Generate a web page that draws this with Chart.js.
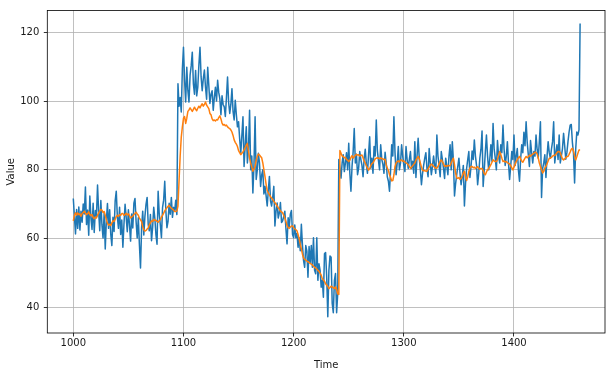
<!DOCTYPE html>
<html>
<head>
<meta charset="utf-8">
<script src="https://cdn.jsdelivr.net/npm/chart.js@4.4.1/dist/chart.umd.min.js"></script>
<style>
html, body { margin: 0; padding: 0; background: #fff; }
</style>
</head>
<body>
<canvas id="seriesChart" width="612" height="371"></canvas>
<script>
// time axis: one step per value, starting here
var firstTime = 1000;
var timeTicks = [1000, 1100, 1200, 1300, 1400];
var valueTicks = [40, 60, 80, 100, 120];

// observed series (blue)
var seriesValues = [
	/*1000*/ 71.7, 66.5, 61.4, 68.5, 63.0, 69.2, 62.5, 68.0, 64.8, 70.1,
	/*1010*/ 67.2, 75.0, 64.1, 68.3, 61.0, 72.4, 66.0, 62.7, 70.3, 61.8,
	/*1020*/ 68.2, 66.4, 75.6, 68.0, 62.3, 71.1, 64.0, 60.2, 67.4, 57.0,
	/*1030*/ 65.1, 70.2, 63.0, 68.4, 61.3, 58.0, 66.2, 62.1, 71.0, 73.8,
	/*1040*/ 66.3, 63.0, 69.1, 61.2, 65.4, 57.5, 64.3, 70.0, 66.2, 62.0,
	/*1050*/ 68.4, 64.0, 59.3, 67.2, 63.1, 70.3, 71.7, 65.0, 60.2, 66.1,
	/*1060*/ 58.3, 51.5, 63.2, 68.0, 61.1, 66.4, 70.0, 72.0, 64.1, 62.3,
	/*1070*/ 67.0, 59.4, 63.3, 69.1, 66.0, 61.2, 58.4, 73.8, 67.2, 64.0,
	/*1080*/ 60.3, 69.0, 71.2, 76.7, 68.1, 63.2, 65.0, 70.3, 67.1, 72.0,
	/*1090*/ 66.2, 69.1, 68.0, 71.2, 67.0, 105.0, 98.5, 101.0, 96.8, 109.3,
	/*1100*/ 115.6, 106.0, 99.7, 109.8, 103.0, 99.7, 107.5, 110.2, 114.2, 105.0,
	/*1110*/ 102.0, 108.9, 101.5, 104.0, 110.5, 115.6, 107.0, 103.0, 106.5, 109.0,
	/*1120*/ 104.0, 100.5, 109.8, 104.5, 99.3, 102.0, 103.0, 97.3, 101.0, 104.0,
	/*1130*/ 100.0, 106.0, 102.5, 100.7, 96.0, 101.5, 99.0, 98.3, 95.5, 101.0,
	/*1140*/ 107.0, 99.5, 96.4, 99.0, 103.6, 97.0, 94.5, 100.2, 96.0, 92.5,
	/*1150*/ 94.0, 89.0, 84.8, 90.0, 95.4, 81.0, 87.0, 92.5, 82.0, 86.0,
	/*1160*/ 97.3, 80.0, 84.0, 73.3, 81.5, 95.4, 77.2, 80.0, 84.8, 82.0,
	/*1170*/ 75.2, 78.5, 80.0, 73.0, 75.2, 72.5, 69.5, 74.0, 78.1, 71.0,
	/*1180*/ 69.5, 72.0, 75.2, 63.7, 68.0, 70.4, 66.0, 67.5, 70.5, 64.7,
	/*1190*/ 65.2, 66.5, 68.0, 62.8, 58.5, 66.1, 63.5, 67.1, 68.2, 61.2,
	/*1200*/ 60.3, 64.0, 60.3, 61.5, 57.5, 60.3, 56.5, 64.2, 58.0, 53.6,
	/*1210*/ 51.7, 58.0, 56.4, 48.8, 57.7, 53.0, 58.0, 51.7, 60.3, 50.8,
	/*1220*/ 49.8, 60.3, 47.9, 52.7, 50.8, 45.9, 48.0, 43.0, 55.6, 56.0,
	/*1230*/ 48.8, 37.3, 50.8, 55.0, 54.6, 41.2, 38.5, 47.9, 49.9, 38.5,
	/*1240*/ 44.0, 83.0, 80.5, 77.6, 82.0, 84.4, 79.5, 82.0, 85.0, 80.0,
	/*1250*/ 87.7, 79.0, 73.8, 81.0, 85.3, 92.0, 82.0, 84.5, 78.6, 80.5,
	/*1260*/ 85.3, 83.0, 81.3, 78.0, 83.4, 86.0, 81.6, 79.0, 84.5, 89.6,
	/*1270*/ 80.5, 83.4, 79.0, 86.8, 84.0, 94.5, 85.5, 82.7, 80.0, 87.3,
	/*1280*/ 83.0, 81.6, 79.0, 85.1, 82.0, 78.0, 76.7, 73.8, 80.0, 87.3,
	/*1290*/ 84.0, 95.4, 85.0, 78.6, 82.0, 86.8, 80.0, 82.0, 87.3, 84.0,
	/*1300*/ 81.3, 79.5, 86.8, 83.0, 80.4, 83.0, 85.3, 80.4, 82.5, 79.0,
	/*1310*/ 88.2, 77.8, 84.0, 89.2, 83.4, 80.0, 75.7, 79.0, 81.3, 83.4,
	/*1320*/ 85.0, 80.4, 78.0, 86.2, 82.0, 78.6, 81.0, 84.0, 81.3, 79.0,
	/*1330*/ 90.1, 84.0, 81.3, 78.0, 85.3, 83.0, 80.4, 77.5, 83.4, 81.0,
	/*1340*/ 78.6, 84.0, 87.3, 80.0, 88.2, 82.7, 72.4, 76.0, 78.6, 81.0,
	/*1350*/ 83.4, 79.0, 75.7, 78.0, 81.3, 69.5, 76.0, 80.4, 83.0, 85.3,
	/*1360*/ 77.8, 81.0, 85.5, 83.0, 88.7, 84.0, 81.3, 75.7, 79.0, 83.4,
	/*1370*/ 86.0, 91.3, 75.2, 80.0, 85.3, 90.1, 84.0, 80.0, 83.0, 87.3,
	/*1380*/ 82.5, 93.5, 86.0, 83.4, 80.0, 88.5, 84.0, 82.0, 87.3, 85.0,
	/*1390*/ 93.0, 86.0, 81.3, 84.0, 88.2, 82.0, 77.2, 81.0, 85.3, 83.0,
	/*1400*/ 90.1, 81.3, 84.0, 86.2, 80.0, 76.7, 83.0, 87.3, 85.0, 90.9,
	/*1410*/ 87.0, 94.0, 88.0, 84.4, 81.0, 88.5, 85.0, 82.0, 85.3, 84.0,
	/*1420*/ 90.1, 86.0, 83.4, 88.2, 94.0, 72.0, 80.4, 82.0, 84.4, 77.8,
	/*1430*/ 84.0, 88.2, 85.0, 83.4, 86.0, 88.2, 94.0, 82.0, 85.0, 87.3,
	/*1440*/ 83.0, 90.1, 82.0, 84.0, 86.2, 90.6, 87.0, 83.1, 85.0, 88.2,
	/*1450*/ 91.0, 93.0, 93.2, 88.0, 84.8, 76.2, 86.0, 91.0, 90.1, 91.6,
	/*1460*/ 122.5
];

// forecast (orange)
var forecastValues = [
	/*1000*/ 65.2, 66.8, 67.5, 66.8, 67.5, 67.0, 67.2, 66.5, 67.3, 67.6,
	/*1010*/ 68.0, 67.4, 67.0, 67.3, 67.8, 67.0, 66.7, 67.0, 66.2, 65.8,
	/*1020*/ 66.3, 66.0, 66.8, 67.5, 68.0, 68.5, 68.3, 67.6, 67.9, 66.8,
	/*1030*/ 65.5, 64.5, 63.9, 64.2, 63.8, 64.6, 65.2, 65.0, 65.7, 66.4,
	/*1040*/ 66.8, 66.5, 67.0, 66.8, 67.3, 67.3, 66.8, 67.0, 67.4, 66.9,
	/*1050*/ 67.2, 66.7, 66.0, 66.3, 66.6, 67.0, 67.3, 67.7, 67.2, 66.8,
	/*1060*/ 66.0, 65.5, 65.0, 63.5, 62.6, 62.2, 62.4, 62.8, 63.1, 64.0,
	/*1070*/ 64.6, 65.2, 65.0, 65.6, 65.3, 65.4, 65.0, 64.8, 65.2, 65.5,
	/*1080*/ 66.3, 66.8, 67.4, 68.1, 68.6, 69.0, 69.4, 69.7, 69.2, 68.8,
	/*1090*/ 68.6, 68.3, 67.9, 67.9, 68.0, 69.5, 77.0, 84.0, 89.5, 92.5,
	/*1100*/ 95.0, 95.5, 93.5, 95.0, 97.0, 97.4, 98.0, 97.5, 97.0, 97.6,
	/*1110*/ 98.2, 97.6, 97.2, 97.9, 98.5, 98.0, 98.7, 99.2, 98.5, 99.0,
	/*1120*/ 99.7, 98.8, 98.3, 97.8, 96.4, 96.0, 94.8, 94.3, 94.5, 94.2,
	/*1130*/ 94.6, 94.5, 95.2, 95.7, 94.8, 93.6, 93.0, 93.2, 92.8, 93.0,
	/*1140*/ 92.5, 92.2, 92.0, 91.6, 91.0, 90.0, 88.7, 88.0, 87.5, 86.8,
	/*1150*/ 85.6, 85.0, 84.4, 84.8, 85.2, 85.8, 86.5, 87.2, 87.7, 85.5,
	/*1160*/ 83.4, 82.0, 80.8, 79.6, 80.2, 81.0, 82.8, 84.0, 84.6, 84.3,
	/*1170*/ 83.9, 83.5, 82.0, 80.0, 78.0, 75.8, 74.0, 73.3, 72.8, 72.2,
	/*1180*/ 71.8, 71.4, 70.8, 70.5, 70.0, 69.5, 69.0, 68.6, 68.0, 67.8,
	/*1190*/ 67.5, 66.8, 66.0, 65.0, 63.8, 63.2, 63.0, 63.4, 63.7, 63.7,
	/*1200*/ 63.2, 62.9, 62.6, 62.3, 61.2, 60.0, 58.4, 57.0, 55.5, 54.4,
	/*1210*/ 54.0, 53.8, 53.5, 53.3, 53.1, 52.8, 52.6, 52.4, 52.0, 51.7,
	/*1220*/ 51.5, 51.2, 50.8, 50.5, 50.0, 49.4, 48.4, 48.0, 47.6, 46.9,
	/*1230*/ 46.5, 46.2, 45.5, 45.8, 46.2, 46.0, 45.7, 45.5, 46.0, 45.2,
	/*1240*/ 44.0, 43.8, 85.6, 84.8, 84.0, 83.9, 83.5, 83.6, 83.0, 82.8,
	/*1250*/ 82.4, 82.8, 83.6, 84.1, 83.4, 83.8, 84.2, 84.5, 84.3, 84.4,
	/*1260*/ 84.0, 84.2, 84.3, 83.5, 82.6, 82.0, 81.2, 80.5, 79.9, 80.4,
	/*1270*/ 81.2, 81.8, 82.0, 82.6, 83.2, 83.4, 83.5, 83.4, 83.2, 83.5,
	/*1280*/ 83.2, 83.2, 83.0, 83.1, 81.5, 80.5, 79.8, 78.6, 77.8, 76.8,
	/*1290*/ 76.9, 78.5, 81.0, 82.0, 82.4, 82.6, 82.3, 82.8, 82.9, 82.5,
	/*1300*/ 82.6, 82.3, 82.0, 81.8, 81.5, 81.0, 80.4, 80.8, 81.2, 81.6,
	/*1310*/ 82.0, 82.8, 83.4, 83.9, 83.2, 82.0, 80.8, 79.9, 79.7, 79.8,
	/*1320*/ 79.6, 79.6, 80.2, 80.8, 81.3, 81.7, 81.4, 81.0, 80.8, 80.5,
	/*1330*/ 80.5, 81.0, 81.8, 82.5, 82.9, 82.4, 81.8, 81.0, 81.2, 81.0,
	/*1340*/ 81.3, 81.2, 81.2, 82.0, 82.8, 83.4, 81.5, 79.0, 77.7, 77.5,
	/*1350*/ 77.8, 77.2, 77.5, 78.2, 79.1, 79.6, 77.8, 76.9, 78.0, 79.5,
	/*1360*/ 80.5, 81.0, 81.0, 80.6, 80.8, 80.4, 80.7, 80.9, 80.5, 80.2,
	/*1370*/ 80.4, 80.4, 79.8, 78.9, 78.6, 79.4, 80.0, 80.4, 80.9, 81.5,
	/*1380*/ 82.2, 82.9, 82.6, 82.4, 82.4, 83.0, 84.2, 85.3, 84.5, 83.4,
	/*1390*/ 82.4, 82.6, 82.3, 82.4, 82.1, 81.9, 81.7, 81.2, 80.6, 80.0,
	/*1400*/ 80.8, 81.6, 82.4, 83.0, 83.5, 83.9, 83.2, 82.6, 82.2, 82.8,
	/*1410*/ 83.4, 83.9, 83.5, 83.8, 84.3, 84.0, 84.3, 84.6, 84.8, 85.1,
	/*1420*/ 85.1, 84.6, 83.5, 82.0, 81.0, 80.0, 79.1, 79.6, 80.5, 81.0,
	/*1430*/ 81.8, 82.6, 83.4, 83.4, 83.6, 84.0, 84.2, 84.2, 84.5, 85.0,
	/*1440*/ 85.3, 85.3, 85.0, 84.0, 83.2, 82.9, 83.2, 83.5, 83.9, 83.9,
	/*1450*/ 84.5, 85.2, 86.0, 86.3, 85.5, 84.0, 82.9, 83.8, 84.8, 85.8,
	/*1460*/ 85.8
];

var tickFont = { family: "'DejaVu Sans', sans-serif", size: 10 };
var textColor = "#1a1a1a";

function toPoints(values) {
	return values.map(function (v, i) {
		return { x: firstTime + i, y: v };
	});
}

// black box round the plot area, drawn above the lines like matplotlib spines
var frame = {
	id: "frame",
	afterDatasetsDraw: function (chart) {
		var a = chart.chartArea, ctx = chart.ctx;
		ctx.save();
		ctx.strokeStyle = "#000";
		ctx.lineWidth = 0.8;
		ctx.strokeRect(a.left, a.top, a.right - a.left, a.bottom - a.top);
		ctx.restore();
	}
};

var gridStyle = {
	color: "#b0b0b0",
	lineWidth: 0.8,
	tickColor: "#000",
	tickLength: 3.5,
	tickWidth: 0.8
};

new Chart(document.getElementById("seriesChart"), {
	type: "line",
	data: {
		datasets: [{
			label: "Series",
			data: toPoints(seriesValues),
			borderColor: "#1f77b4",
			borderWidth: 1.5,
			borderJoinStyle: "round",
			pointRadius: 0,
			order: 2
		}, {
			label: "Forecast",
			data: toPoints(forecastValues),
			borderColor: "#ff7f0e",
			borderWidth: 1.5,
			borderJoinStyle: "round",
			pointRadius: 0,
			order: 1
		}]
	},
	options: {
		responsive: false,
		animation: false,
		devicePixelRatio: 1,
		layout: { padding: { top: 7.3, right: 7, left: 0, bottom: 0 } },
		plugins: {
			legend: { display: false },
			tooltip: { enabled: false }
		},
		scales: {
			x: {
				type: "linear",
				min: 976.4,
				max: 1482.6,
				afterBuildTicks: function (axis) {
					axis.ticks = timeTicks.map(function (v) { return { value: v }; });
				},
				afterFit: function (s) { s.height = 38; },
				grid: gridStyle,
				border: { display: false },
				ticks: {
					font: tickFont,
					color: textColor,
					padding: 1.2,
					maxRotation: 0,
					callback: function (v) { return String(v); }
				},
				title: {
					display: true,
					text: "Time",
					font: tickFont,
					color: textColor,
					padding: { top: 5, bottom: 0 }
				}
			},
			y: {
				min: 32.6,
				max: 126.3,
				afterBuildTicks: function (axis) {
					axis.ticks = valueTicks.map(function (v) { return { value: v }; });
				},
				afterFit: function (s) { s.width = 47.3; },
				grid: gridStyle,
				border: { display: false },
				ticks: { font: tickFont, color: textColor, padding: 4.5 },
				title: {
					display: true,
					text: "Value",
					font: tickFont,
					color: textColor,
					padding: { top: 5.2, bottom: 0 }
				}
			}
		}
	},
	plugins: [frame]
});
</script>
</body>
</html>
